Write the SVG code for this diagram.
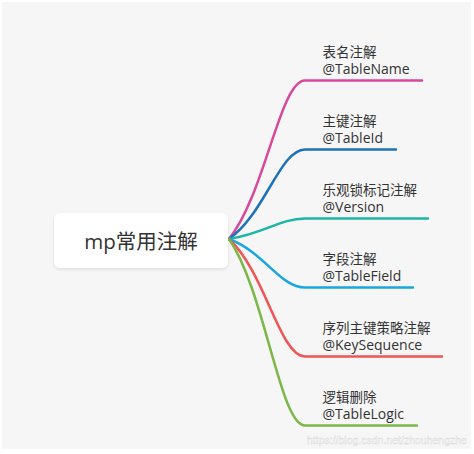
<svg xmlns="http://www.w3.org/2000/svg" width="474" height="454" viewBox="0 0 474 454">
  <defs>
    <filter id="shadow" x="-10%" y="-20%" width="120%" height="150%">
      <feDropShadow dx="0" dy="1.5" stdDeviation="1.5" flood-color="#000" flood-opacity="0.10"/>
    </filter>
    <style>
      .edge { fill: none; stroke-width: 2.5; stroke-linecap: round; }
      .zh { font-family: "Open Sans", "Noto Sans CJK SC", sans-serif; font-size: 13.5px; fill: #333; }
      .en { font-family: "Open Sans", "Noto Sans CJK SC", sans-serif; font-size: 14px; fill: #333; }
      .root { font-family: "Open Sans", "Noto Sans CJK SC", sans-serif; font-size: 20.5px; fill: #333; }
      .wm { font-family: "Liberation Sans", Arial, sans-serif; font-size: 10.5px; fill: #fbfbfb; stroke: #d8d8d8; stroke-width: 0.4; }
    </style>
  </defs>
  <rect x="0" y="0" width="474" height="454" fill="#ffffff"/>
  <rect x="2" y="2" width="469" height="447" fill="#f6f6f6"/>

  <g id="connectors">
    <path class="edge" stroke="#d9489a" d="M229,239 C265,194.6 280,80.5 305,80.5 L422,80.5"/>
    <path class="edge" stroke="#1e72b8" d="M229,239 C265,213.9 280,149.5 305,149.5 L396,149.5"/>
    <path class="edge" stroke="#1db5a5" d="M229,239 C265,233.3 280,218.5 305,218.5 L428,218.5"/>
    <path class="edge" stroke="#1aa7e0" d="M229,239 C265,252.6 280,287.5 305,287.5 L413,287.5"/>
    <path class="edge" stroke="#f05454" d="M229,239 C265,271.9 280,356.5 305,356.5 L442,356.5"/>
    <path class="edge" stroke="#7cb74a" d="M229,239 C265,291.2 280,425.5 305,425.5 L417,425.5"/>
  </g>

  <g id="root">
    <rect x="54" y="213" width="174" height="55" rx="6" fill="#ffffff" filter="url(#shadow)"/>
    <text class="root" x="141" y="249" text-anchor="middle">mp常用注解</text>
  </g>

  <g id="n1">
    <text class="zh" x="322.5" y="56.5">表名注解</text>
    <text class="en" x="322.5" y="74">@TableName</text>
  </g>
  <g id="n2">
    <text class="zh" x="322.5" y="125.5">主键注解</text>
    <text class="en" x="322.5" y="143">@TableId</text>
  </g>
  <g id="n3">
    <text class="zh" x="322.5" y="194.5">乐观锁标记注解</text>
    <text class="en" x="322.5" y="212">@Version</text>
  </g>
  <g id="n4">
    <text class="zh" x="322.5" y="263.5">字段注解</text>
    <text class="en" x="322.5" y="281">@TableField</text>
  </g>
  <g id="n5">
    <text class="zh" x="322.5" y="332.5">序列主键策略注解</text>
    <text class="en" x="322.5" y="350">@KeySequence</text>
  </g>
  <g id="n6">
    <text class="zh" x="322.5" y="401.5">逻辑删除</text>
    <text class="en" x="322.5" y="419">@TableLogic</text>
  </g>

  <text class="wm" x="307" y="444">https://blog.csdn.net/zhouhengzhe</text>
</svg>
